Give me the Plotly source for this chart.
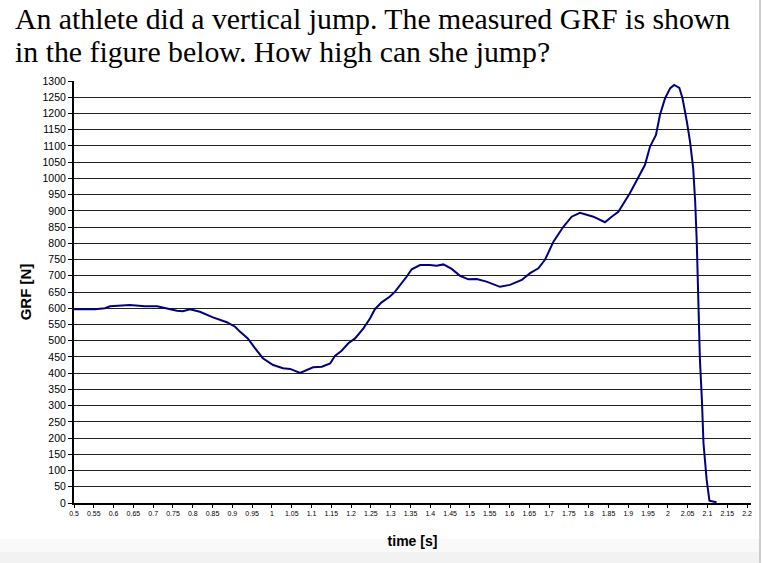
# Vertical jump - ground reaction force vs time


import plotly.graph_objs as go


# values
time_s = [0.500, 0.553, 0.578, 0.591, 0.641, 0.679, 0.710, 0.735, 0.760, 0.775,
          0.793, 0.818, 0.851, 0.886, 0.907, 0.919, 0.939, 0.957, 0.977, 1.003,
          1.028, 1.046, 1.071, 1.104, 1.126, 1.147, 1.159, 1.176, 1.193, 1.210,
          1.231, 1.248, 1.260, 1.277, 1.298, 1.311, 1.328, 1.340, 1.353, 1.374,
          1.399, 1.416, 1.433, 1.454, 1.475, 1.496, 1.517, 1.542, 1.576, 1.601,
          1.631, 1.652, 1.673, 1.690, 1.711, 1.736, 1.757, 1.778, 1.812, 1.841,
          1.858, 1.875, 1.904, 1.925, 1.942, 1.955, 1.970, 1.980, 1.993, 2.006,
          2.016, 2.029, 2.037, 2.048, 2.056, 2.064, 2.069, 2.073, 2.075, 2.077,
          2.081, 2.086, 2.090, 2.098, 2.105, 2.123]
grf_n = [597, 597, 600, 606, 610, 606, 606, 600, 592, 591,
         597, 589, 572, 557, 543, 528, 507, 477, 446, 425,
         415, 413, 401, 418, 420, 430, 453, 469, 492, 507,
         538, 569, 597, 618, 636, 651, 677, 697, 720, 733,
         733, 731, 735, 721, 700, 689, 690, 682, 666, 672,
         687, 708, 723, 750, 805, 851, 882, 894, 882, 865,
         882, 897, 954, 1000, 1041, 1098, 1134, 1195, 1247, 1278,
         1288, 1279, 1247, 1175, 1113, 1031, 928, 805, 702, 595,
         441, 317, 184, 71, 7, 2]

x_tick_labels = ["0.5", "0.55", "0.6", "0.65", "0.7", "0.75", "0.8", "0.85", "0.9", "0.95",
                 "1", "1.05", "1.1", "1.15", "1.2", "1.25", "1.3", "1.35", "1.4", "1.45",
                 "1.5", "1.55", "1.6", "1.65", "1.7", "1.75", "1.8", "1.85", "1.9", "1.95",
                 "2", "2.05", "2.1", "2.15", "2.2"]

question = ["An athlete did a vertical jump. The measured GRF is shown",
            "in the figure below. How high can she jump?"]


fig = go.Figure()

###curve###
fig.add_trace(
    go.Scatter(
        x = time_s,
        y = grf_n,
        mode = "lines",
        line = dict(color = "#000080", width = 2),
        showlegend = False
    )
)

fig.update_layout(
    width = 763,
    height = 563,
    margin = dict(l = 74, r = 12, t = 81, b = 60),
    plot_bgcolor = "white",
    paper_bgcolor = "white",
    font = dict(family = "Liberation Sans", color = "black"),
    xaxis = dict(
        range = [0.5, 2.21],
        automargin = False,
        tickvals = [float(s) for s in x_tick_labels],
        ticktext = x_tick_labels,
        tickfont = dict(size = 7),
        ticks = "outside", ticklen = 3, tickwidth = 1, tickcolor = "black",
        showline = True, linecolor = "black", linewidth = 2,
        showgrid = False, zeroline = False,
        title = dict(text = "<b>time [s]</b>", font = dict(size = 14), standoff = 20)
    ),
    yaxis = dict(
        range = [0, 1300],
        automargin = False,
        dtick = 50,
        tickfont = dict(size = 10.5),
        ticks = "outside", ticklen = 4, tickwidth = 1, tickcolor = "black",
        showline = True, linecolor = "black", linewidth = 2,
        showgrid = True, gridcolor = "#222222", gridwidth = 1,
        zeroline = False,
        title = dict(text = "<b>GRF [N]</b>", font = dict(size = 15), standoff = 7)
    )
)

###question text###
fig.add_annotation(text = question[0], xref = "paper", yref = "paper",
                   x = -0.0901, y = 1.1485, xanchor = "left", yanchor = "middle",
                   showarrow = False,
                   font = dict(family = "Liberation Serif", size = 29.8, color = "black"))
fig.add_annotation(text = question[1], xref = "paper", yref = "paper",
                   x = -0.0901, y = 1.0701, xanchor = "left", yanchor = "middle",
                   showarrow = False,
                   font = dict(family = "Liberation Serif", size = 29.8, color = "black"))

# frame of the screenshot
fig.add_shape(type = "line", xref = "paper", yref = "paper",
              x0 = 1.0133, x1 = 1.0133, y0 = -0.142, y1 = 1.192,
              line = dict(color = "#9a9a9a", width = 1))
fig.add_shape(type = "rect", xref = "paper", yref = "paper",
              x0 = -0.11, x1 = 1.0125, y0 = -0.142, y1 = -0.115,
              fillcolor = "#f2f2f2", line_width = 0, layer = "below")
fig.add_shape(type = "rect", xref = "paper", yref = "paper",
              x0 = -0.11, x1 = 1.0125, y0 = -0.115, y1 = -0.085,
              fillcolor = "#f9f9f9", line_width = 0, layer = "below")

# drop the default 8px body margin so the figure fills the window
fig.write_html("out.html", config = {"displayModeBar": False},
               post_script = "document.body.style.margin = '0';")
